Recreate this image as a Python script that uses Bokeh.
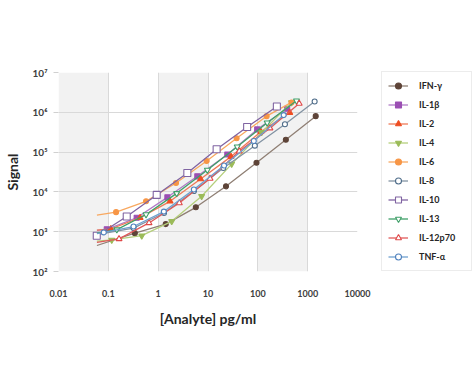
from bokeh.plotting import figure
from bokeh.models import FixedTicker, CustomJSTickFormatter, Legend, LegendItem, BoxAnnotation
from bokeh.embed import file_html
from bokeh.resources import INLINE

# ---- data ----
names = ["IFN-γ", "IL-1β", "IL-2", "IL-4", "IL-6", "IL-8", "IL-10", "IL-13", "IL-12p70", "TNF-α"]

ifng_conc = [0.34, 1.42, 5.7, 23, 94, 365, 1450]
ifng_sig = [920, 1550, 4100, 13800, 54000, 205000, 800000]
ifng_start = (0.059, 450)

il1b_conc = [0.093, 0.37, 1.53, 6.1, 24.4, 97, 388]
il1b_sig = [1150, 2240, 7300, 24600, 87000, 372000, 1230000]
il1b_start = (0.059, 1080)

il2_conc = [0.112, 0.434, 1.73, 7.1, 29, 115, 437]
il2_sig = [1170, 2250, 5800, 21000, 77000, 325000, 980000]
il2_start = (0.059, 1100)

il4_conc = [0.117, 0.468, 1.87, 7.45, 29.8, 119, 474]
il4_sig = [620, 794, 1820, 7800, 50000, 313000, 1770000]
il4_start = (0.059, 580)

il6_conc = [0.143, 0.571, 2.28, 9.4, 37.5, 150, 474]
il6_sig = [3100, 5800, 16700, 60000, 223000, 800000, 1770000]
il6_start = (0.059, 2600)

il8_conc = [0.32, 1.31, 5.24, 20.3, 87, 350, 1380]
il8_sig = [1230, 2950, 10500, 40000, 145000, 500000, 1870000]
il8_start = (0.059, 850)

il10_conc = [0.0586, 0.234, 0.935, 3.85, 14.9, 61, 241]
il10_sig = [794, 2400, 8400, 29800, 118000, 428000, 1400000]
il10_start = (0.0586, 794)

il13_conc = [0.148, 0.571, 2.35, 9.7, 38.6, 154, 597]
il13_sig = [1130, 2700, 9200, 35500, 136000, 546000, 1950000]
il13_start = (0.059, 920)

il12_conc = [0.164, 0.656, 2.66, 11, 42.4, 175, 676]
il12_sig = [660, 1660, 5250, 21700, 105000, 400000, 1660000]
il12_start = (0.059, 540)

tnfa_conc = [0.081, 0.32, 1.3, 5.2, 21, 83, 330]
tnfa_sig = [960, 1350, 3200, 11500, 46000, 190000, 850000]
tnfa_start = (0.059, 900)

x_ticks = [0.01, 0.1, 1, 10, 100, 1000, 10000]
y_ticks = [1e2, 1e3, 1e4, 1e5, 1e6, 1e7]

series = [
    (ifng_conc, ifng_sig, ifng_start),
    (il1b_conc, il1b_sig, il1b_start),
    (il2_conc, il2_sig, il2_start),
    (il4_conc, il4_sig, il4_start),
    (il6_conc, il6_sig, il6_start),
    (il8_conc, il8_sig, il8_start),
    (il10_conc, il10_sig, il10_start),
    (il13_conc, il13_sig, il13_start),
    (il12_conc, il12_sig, il12_start),
    (tnfa_conc, tnfa_sig, tnfa_start),
]

# ---- styles ----
styles = [
    # line color, marker, marker line, marker fill, size
    ("#8f7f74", "circle", "#5e4438", "#5e4438", 5),
    ("#b07cc6", "square", "#9b4fb3", "#9b4fb3", 5),
    ("#ee7a58", "triangle", "#ee4e22", "#ee4e22", 6),
    ("#b5cf7c", "inverted_triangle", "#9bbb59", "#9bbb59", 6),
    ("#f8a860", "circle", "#f79646", "#f79646", 5),
    ("#8393a3", "circle", "#4f6d8a", "white", 5),
    ("#8064a2", "square", "#8064a2", "white", 7),
    ("#3f9f68", "inverted_triangle", "#3f9f68", "white", 6),
    ("#e05a5a", "triangle", "#e04848", "white", 6),
    ("#6fa0d0", "circle", "#4f81bd", "white", 5),
]

FONT = "Lato"

p = figure(frame_width=299, frame_height=199, x_axis_type="log", y_axis_type="log",
           x_range=(0.01, 10000), y_range=(100, 1e7),
           output_backend="svg", toolbar_location=None,
           min_border_left=10, min_border_right=118, min_border_top=72, min_border_bottom=106)
p.outline_line_color = None
p.background_fill_color = "white"

# alternating shaded decades
for lo, hi in [(0.01, 0.1), (1, 10), (100, 1000)]:
    p.add_layout(BoxAnnotation(left=lo, right=hi, fill_color="#f2f2f2", fill_alpha=1,
                               line_color=None, level="image"))

items = []
for name, (cx, cy, st), (lc, mk, ml, mf, sz) in zip(names, series, styles):
    lx = [st[0]] + list(cx) if st[0] < cx[0] else list(cx)
    ly = [st[1]] + list(cy) if st[0] < cx[0] else list(cy)
    r1 = p.line(lx, ly, line_color=lc, line_width=1.3)
    r2 = p.scatter(cx, cy, marker=mk, size=sz, line_color=ml, fill_color=mf, line_width=1.1)
    items.append(LegendItem(label=name, renderers=[r1, r2]))

# axes
p.xaxis.ticker = FixedTicker(ticks=x_ticks)
p.yaxis.ticker = FixedTicker(ticks=y_ticks)
p.xaxis.formatter = CustomJSTickFormatter(code="return String(Number(tick.toPrecision(6)));")
p.yaxis.formatter = CustomJSTickFormatter(code="""
const sup = {'2':'\u00b2','3':'\u00b3','4':'\u2074','5':'\u2075','6':'\u2076','7':'\u2077'};
return '10' + sup[String(Math.round(Math.log10(tick)))];
""")
for ax in (p.xaxis[0], p.yaxis[0]):
    ax.axis_line_color = None
    ax.minor_tick_line_color = None
    ax.major_label_text_font = FONT
    ax.major_label_text_font_style = "bold"
    ax.major_label_text_font_size = "9px"
    ax.major_label_text_color = "#404040"
    ax.axis_label_text_font = FONT
    ax.axis_label_text_font_style = "bold"
    ax.axis_label_text_font_size = "14px"
    ax.axis_label_text_color = "#262626"

p.yaxis.major_label_text_font_size = "10px"
p.xaxis.major_tick_line_color = None
p.xaxis.major_label_standoff = 12
p.xaxis.axis_label = "[Analyte] pg/ml"
p.xaxis.axis_label_standoff = 10

p.yaxis.major_tick_line_color = "#d0d0d0"
p.yaxis.major_tick_out = 5
p.yaxis.major_tick_in = 0
p.yaxis.major_label_standoff = 6
p.yaxis.axis_label = "Signal"
p.yaxis.axis_label_standoff = 9

p.xgrid.grid_line_color = "#d9d9d9"
p.ygrid.grid_line_color = "#d9d9d9"

legend = Legend(items=items, location=(24, 0))
legend.label_text_font = FONT
legend.label_text_font_style = "bold"
legend.label_text_font_size = "9px"
legend.label_text_color = "#262626"
legend.border_line_color = "#d9d9d9"
legend.background_fill_color = "white"
legend.background_fill_alpha = 1
legend.glyph_width = 20
legend.glyph_height = 15
legend.label_height = 15
legend.spacing = 4
legend.padding = 6
legend.label_standoff = 11
legend.margin = 0
legend.label_width = 46
p.add_layout(legend, "right")

open("out.html", "w").write(file_html(p, INLINE))
